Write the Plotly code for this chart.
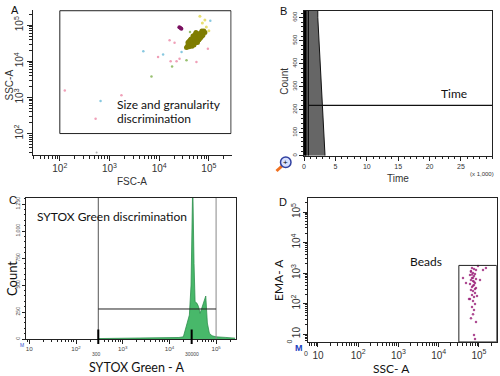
import plotly.graph_objects as go

# ---------------- DATA ----------------
# Panel A: FSC-A vs SSC-A
a_cells_fsc = [35500, 38000, 39800, 41700, 42700, 44700, 45700, 46800, 47900, 50100,
               50100, 51300, 52500, 53700, 55000, 56200, 57500, 58900, 60300, 61700,
               63100, 64600, 66100, 67600, 69200, 70800, 72400, 75900, 79400, 83200,
               39800, 43700, 47900, 52500, 57500, 63100, 69200, 45700, 55000, 60300,
               50100, 41700, 38000, 72400, 75900, 55000, 49000, 64600, 58900, 37200]
a_cells_ssc = [24000, 28200, 25100, 31600, 27500, 35500, 30200, 39800, 33100, 38000,
               44700, 31600, 41700, 36300, 47900, 39800, 43700, 50100, 38000, 45700,
               52500, 41700, 57500, 47900, 55000, 63100, 50100, 60300, 69200, 63100,
               35500, 41700, 50100, 55000, 36300, 39800, 45700, 26300, 33100, 57500,
               28200, 38000, 33100, 69200, 52500, 63100, 47900, 47900, 33100, 25100]
a_pink_fsc = [126, 525, 1740, 9500, 17000, 22400, 25700, 56200, 95500, 16200, 20400]
a_pink_ssc = [1550, 257, 1150, 13200, 10000, 10000, 11800, 9500, 22400, 38000, 32400]
a_cyan_fsc = [661, 4800, 12000, 28200, 107000]
a_cyan_ssc = [794, 19000, 15500, 18200, 132000]
a_green_fsc = [7000, 18200, 35500, 41700]
a_green_ssc = [3800, 7200, 10700, 65000]
a_yellow_fsc = [83200, 89000, 74000, 66000, 100000]
a_yellow_ssc = [138000, 89000, 115000, 178000, 70000]
a_grey_fsc = [550]
a_grey_ssc = [30]
a_purple_fsc = [26900, 25500, 28000]
a_purple_ssc = [84100, 88000, 80000]
a_gate = {"fsc_min": 100, "ssc_min": 100}

# Panel B: Time histogram (time in x1,000)
b_time_k = [0.2, 0.3, 1.0, 2.0, 2.2, 2.5, 2.8, 3.1, 3.35]
b_count = [0, 2500, 2400, 2300, 600, 443, 287, 131, 0]
b_ticks = [0, 5, 10, 15, 20, 25]
b_gate_time_k = 0.7
b_gate_count = 219

# Panel C: SYTOX Green histogram
c_sytox = [300, 1000, 3000, 8000, 12000, 16000, 19900, 24300, 26800, 29100, 31600,
           33700, 35500, 39100, 42000, 45400, 50100, 54000, 60100, 65000, 71800,
           82000, 100000, 156000, 255000]
c_count = [4, 5, 6, 8, 10, 14, 20, 148, 222, 500, 1450,
           700, 345, 330, 300, 238, 290, 330, 398, 148, 53,
           30, 20, 15, 8]
c_yticks = [0, 250, 500, 750, 1000, 1250]
c_yticktext = ["0", "250", "500", "750", "1,000", "1,250"]
c_gate_lo = 300
c_gate_hi = 100000
c_gate_count = 278
c_marker = 30000

# Panel D: SSC-A vs EMA-A (beads)
d_ssc = [67000, 75100, 84200, 63200, 71000, 79600, 59700, 75100, 67000, 84200,
         63200, 71000, 79600, 59700, 75100, 67000, 84200, 63200, 71000, 79600,
         67000, 75100, 59700, 71000, 79600, 67000, 75100, 71000, 63200, 84200,
         40000, 47500, 126000, 149000, 94400, 106000, 75100, 79600, 56500, 89200,
         71000, 75100, 67000, 71000, 79600, 63200]
d_ema = [1460, 1350, 1250, 1160, 1000, 927, 859, 797, 686, 636,
         589, 547, 470, 436, 404, 348, 322, 277, 257, 221,
         190, 163, 141, 121, 96, 77, 61, 45, 33, 25,
         686, 470, 1250, 1460, 1700, 589, 9.3, 6.9, 141, 176,
         700, 520, 900, 380, 300, 1100]
d_gate = {"ssc_min": 31600, "ema_max": 1780}

# ---------------- FIGURE ----------------
W, H = 500, 376
def px(x): return x / W
def py(y): return 1 - y / H

fig = go.Figure()

def pts(x, y, color, size, ax, opacity=1):
    fig.add_trace(go.Scatter(x=x, y=y, mode="markers", xaxis="x" + ax, yaxis="y" + ax,
                             marker=dict(color=color, size=size, opacity=opacity,
                                         line=dict(width=0)),
                             hoverinfo="skip", showlegend=False))

# A
pts(a_pink_fsc, a_pink_ssc, "#f0a0b8", 2.5, "")
pts(a_cyan_fsc, a_cyan_ssc, "#88c8e0", 2.5, "")
pts(a_green_fsc, a_green_ssc, "#98c070", 2.5, "")
pts(a_yellow_fsc, a_yellow_ssc, "#e8e070", 3, "")
pts(a_grey_fsc, a_grey_ssc, "#b0b0b0", 2, "")
pts(a_cells_fsc, a_cells_ssc, "#7f7d00", 5, "")
pts(a_purple_fsc, a_purple_ssc, "#7a1060", 4, "")

# B
fig.add_trace(go.Scatter(x=b_time_k, y=b_count, mode="lines", fill="tozeroy",
                         fillcolor="#666666", line=dict(color="#111111", width=1),
                         xaxis="x2", yaxis="y2", hoverinfo="skip", showlegend=False))

# C
fig.add_trace(go.Scatter(x=c_sytox, y=c_count, mode="lines", fill="tozeroy",
                         fillcolor="#48b86a", line=dict(color="#2f8f4e", width=0.8),
                         xaxis="x3", yaxis="y3", hoverinfo="skip", showlegend=False))

# D
pts(d_ssc, d_ema, "#9a1f78", 2.5, "4", 0.8)

axfont = dict(family="Liberation Sans", size=8, color="#333")
common = dict(showgrid=False, zeroline=False, showline=True, linecolor="#222",
              linewidth=1, ticks="outside", tickcolor="#222", tickfont=axfont,
              automargin=False)

fig.update_layout(
    width=W, height=H, margin=dict(l=0, r=0, t=0, b=0, autoexpand=False),
    paper_bgcolor="white", plot_bgcolor="white", showlegend=False,
    xaxis=dict(common, domain=[px(33), px(231.7)], anchor="y", type="log",
               range=[1.46, 5.46], dtick=1, exponentformat="power", ticklen=5,
               minor=dict(ticks="outside", ticklen=3, tickcolor="#222")),
    yaxis=dict(common, domain=[py(154.5), py(10)], anchor="x", type="log",
               range=[1.42, 5.42], dtick=1, exponentformat="power", ticklen=5,
               tickangle=-90,
               minor=dict(ticks="outside", ticklen=3, tickcolor="#222")),
    xaxis2=dict(common, domain=[px(304), px(492.3)], anchor="y2", range=[0, 30],
                tickvals=b_ticks, ticklen=4, mirror=True,
                tickfont=dict(family="Liberation Sans", size=7, color="#333"),
                minor=dict(ticks="outside", ticklen=2, dtick=1, tick0=0, tickcolor="#222")),
    yaxis2=dict(common, domain=[py(155.7), py(10.7)], anchor="x2", range=[0, 630],
                dtick=100, ticklen=4, mirror=True, tickangle=-90,
                tickfont=dict(family="Liberation Sans", size=6, color="#333"),
                minor=dict(ticks="outside", ticklen=2, dtick=20, tickcolor="#222")),
    xaxis3=dict(common, domain=[px(26), px(235.7)], anchor="y3", type="log",
                range=[0.929, 5.42], dtick=1, exponentformat="power", ticklen=4,
                mirror=True,
                tickfont=dict(family="Liberation Sans", size=5, color="#444"),
                minor=dict(ticks="outside", ticklen=2, tickcolor="#222")),
    yaxis3=dict(common, domain=[py(339), py(198)], anchor="x3", range=[0, 1306],
                tickvals=c_yticks, ticktext=c_yticktext,
                ticklen=3, mirror=True, tickangle=-90,
                tickfont=dict(family="Liberation Sans", size=5, color="#444"),
                minor=dict(ticks="outside", ticklen=1.5, dtick=50, tickcolor="#222")),
    xaxis4=dict(common, domain=[px(308.3), px(496.7)], anchor="y4", type="log",
                range=[0.76, 5.44], dtick=1, exponentformat="power", ticklen=4,
                mirror=True,
                minor=dict(ticks="outside", ticklen=2.5, tickcolor="#222")),
    yaxis4=dict(common, domain=[py(342), py(198)], anchor="x4", type="log",
                range=[0.74, 5.46], dtick=1, exponentformat="power", ticklen=4,
                mirror=True, tickangle=-90,
                minor=dict(ticks="outside", ticklen=2.5, tickcolor="#222")),
)

shapes = []
# A gate
shapes.append(dict(type="rect", xref="x", yref="y", x0=a_gate["fsc_min"], x1=279000,
                   y0=a_gate["ssc_min"], y1=251000, line=dict(color="#222", width=1)))
# B gate
shapes.append(dict(type="line", xref="x2", yref="y2", x0=b_gate_time_k, x1=30,
                   y0=b_gate_count, y1=b_gate_count, line=dict(color="#111", width=1.2)))
shapes.append(dict(type="line", xref="x2", yref="y2", x0=b_gate_time_k, x1=b_gate_time_k,
                   y0=0, y1=630, line=dict(color="#111", width=1.2)))
shapes.append(dict(type="line", xref="x2", yref="y2", x0=b_time_k[0], x1=b_time_k[0],
                   y0=0, y1=630, line=dict(color="#000", width=2.5)))
# C gates
shapes.append(dict(type="line", xref="x3", yref="y3", x0=c_gate_lo, x1=c_gate_lo,
                   y0=0, y1=1306, line=dict(color="#555", width=1)))
shapes.append(dict(type="line", xref="x3", yref="y3", x0=c_gate_hi, x1=c_gate_hi,
                   y0=0, y1=1306, line=dict(color="#888", width=1)))
shapes.append(dict(type="line", xref="x3", yref="y3", x0=c_gate_lo, x1=c_gate_hi,
                   y0=c_gate_count, y1=c_gate_count, line=dict(color="#222", width=1)))
for xv in (c_gate_lo, c_marker):
    shapes.append(dict(type="line", xref="x3", yref="paper", x0=xv, x1=xv,
                       y0=py(344), y1=py(329.5), line=dict(color="#000", width=2)))
# D gate
shapes.append(dict(type="rect", xref="x4", yref="y4", x0=d_gate["ssc_min"], x1=275000,
                   y0=5.5, y1=d_gate["ema_max"], line=dict(color="#222", width=1)))
# B magnifier icon
shapes.append(dict(type="line", xref="paper", yref="paper", x0=px(282), x1=px(276.5),
                   y0=py(166), y1=py(171), line=dict(color="#f07020", width=3)))
shapes.append(dict(type="circle", xref="paper", yref="paper", x0=px(280.5), x1=px(291),
                   y0=py(167.5), y1=py(157), line=dict(color="#3040a0", width=1.5),
                   fillcolor="#d8e0ff"))
fig.update_layout(shapes=shapes)

ann = []
def text(x, y, s, size, family="Lato", color="#111", angle=0, xanchor="center"):
    ann.append(dict(x=px(x), y=py(y), xref="paper", yref="paper", text=s, showarrow=False,
                    font=dict(family=family, size=size, color=color), textangle=angle,
                    xanchor=xanchor, yanchor="middle"))

# panel letters
text(15, 10, "A", 11, "Liberation Sans")
text(283, 11, "B", 11, "Liberation Sans")
text(12.7, 200, "C", 11, "Liberation Sans")
text(283, 202, "D", 11, "Liberation Sans")
# A
text(8.5, 85, "SSC-A", 10, "Liberation Sans", "#333", -90)
text(131.7, 181.5, "FSC-A", 10, "Liberation Sans", "#333")
text(115, 104.3, "Size and granularity", 12, xanchor="left")
text(115, 118.5, "discrimination", 12, xanchor="left")
# B
text(285, 81.7, "Count", 10, "Liberation Sans", "#333", -90)
text(398, 178.3, "Time", 10, "Liberation Sans", "#333")
text(454, 93, "Time", 12)
text(482, 173.5, "(x 1,000)", 6, "Liberation Sans", "#333")
text(285.8, 162.3, "+", 8, "Liberation Sans", "#000")
# C
text(12, 279, "Count", 13, angle=-90)
text(136.7, 367.5, "SYTOX Green - A", 12.5)
text(35, 216.3, "SYTOX Green discrimination", 12, xanchor="left")
text(96.7, 354, "300", 5, "Liberation Sans", "#444")
text(191.5, 354, "30000", 5, "Liberation Sans", "#444")
text(22, 344.5, "M", 5, "Liberation Sans", "#3050d0")
# D
text(278.3, 279.7, "EMA- A", 12, angle=-90)
text(391.7, 368, "SSC- A", 12)
text(425.7, 261, "Beads", 12)
text(299, 347.5, "<b>M</b>", 9, "Liberation Sans", "#2040c0")
text(305.5, 353.5, "0", 7, "Liberation Sans", "#333")
text(288.5, 342, "0", 7, "Liberation Sans", "#333", -90)
fig.update_layout(annotations=ann)

fig.write_html("out.html", config={"displayModeBar": False},
               post_script="document.body.style.margin='0';document.body.style.padding='0';")
